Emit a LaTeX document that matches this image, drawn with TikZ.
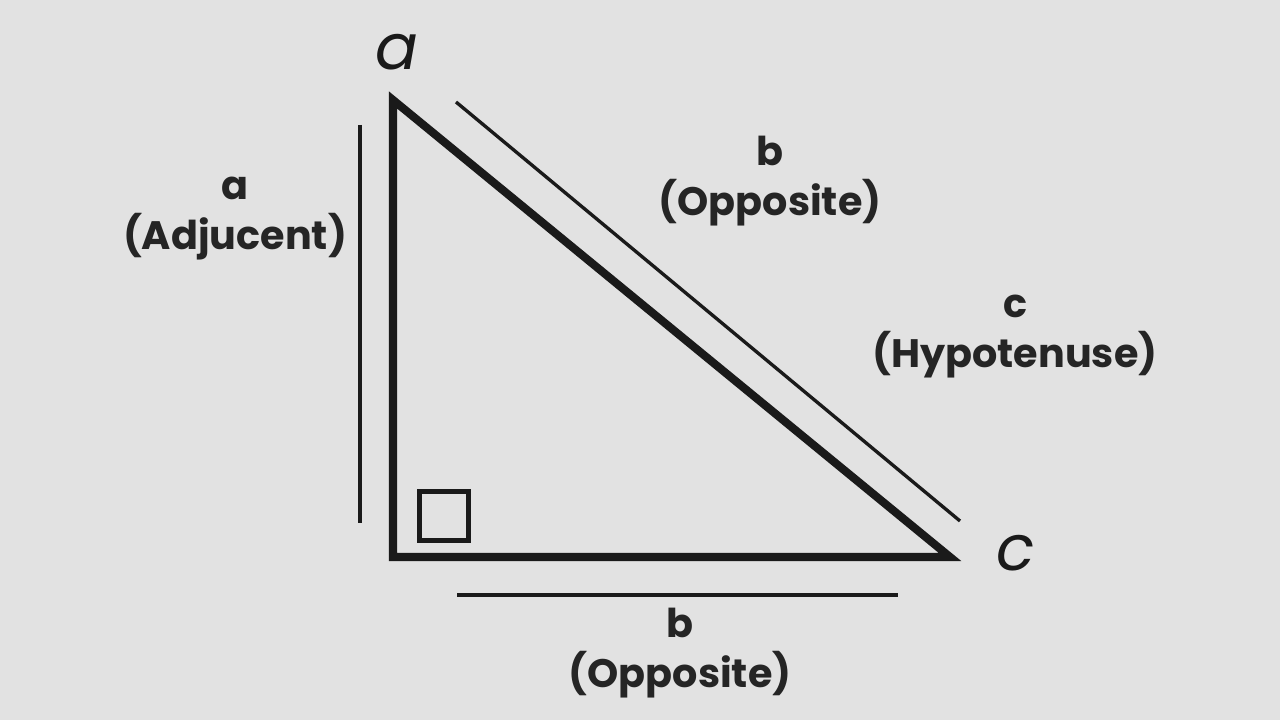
\documentclass[tikz,border=0pt]{standalone}
\usepackage{fontspec}
\setmainfont{Poppins}
\definecolor{bg}{RGB}{226,226,226}
\definecolor{ink}{RGB}{26,26,26}
\tikzset{
  side/.style={line width=0.95pt, ink},
  lbl/.style={font=\fontsize{11.3}{14.2}\selectfont\bfseries, text=ink!95!white, align=center},
  vtx/.style={font=\fontsize{18}{20}\selectfont\itshape, text=ink}
}
\begin{document}
\begin{tikzpicture}
    \fill[bg] (0,0) rectangle (12.8,7.2);
    \useasboundingbox (0,0) rectangle (12.8,7.2);
    %% triangle
    \coordinate (A) at (3.93,6.20);
    \coordinate (B) at (3.93,1.63);
    \coordinate (C) at (9.50,1.63);
    \draw[line width=2.3pt, ink, miter limit=20] (A) -- (B) -- (C) -- cycle;
    %% right angle
    \draw[line width=1.4pt, ink] (4.195,1.795) rectangle (4.685,2.285);
    %% side markers
    \coordinate (a1) at (3.60,5.95);
    \coordinate (a2) at (3.60,1.97);
    \draw[side] (a1) -- (a2);
    \coordinate (h1) at (4.56,6.18);
    \coordinate (h2) at (9.60,1.99);
    \draw[side] (h1) -- (h2);
    \coordinate (b1) at (4.57,1.25);
    \coordinate (b2) at (8.98,1.25);
    \draw[side] (b1) -- (b2);
    %% labels
    \node[vtx] (va) at (3.97,6.68) {a};
    \node[vtx] (vc) at (10.16,1.67) {c};
    \node[lbl] (adj) at (2.35,5.01) {a\\(Adjucent)};
    \node[lbl] (opp) at (7.70,5.39) {b\\(Opposite)};
    \node[lbl] (hyp) at (10.15,3.83) {c\\(Hypotenuse)};
    \node[lbl] (oppb) at (6.80,0.67) {b\\(Opposite)};
\end{tikzpicture}
\end{document}
